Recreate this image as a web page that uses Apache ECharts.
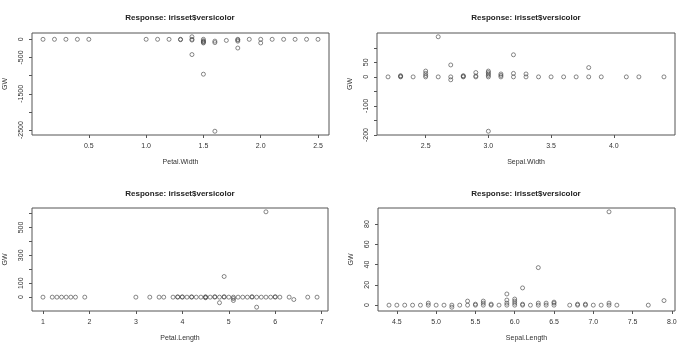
<!DOCTYPE html>
<html>
<head>
<meta charset="utf-8">
<script src="https://cdn.jsdelivr.net/npm/echarts@6/dist/echarts.min.js"></script>
<style>
  html, body { margin: 0; padding: 0; background: #fff; }
  #main { width: 690px; height: 351px; }
</style>
</head>
<body>
<div id="main"></div>
<script>
const TITLE = 'Response: irisset$versicolor';

// panel 1: Petal.Width
const petalWidth = [0.1, 0.2, 0.3, 0.4, 0.5, 1.0, 1.1, 1.2, 1.3, 1.3, 1.4, 1.4, 1.4, 1.4,
  1.5, 1.5, 1.5, 1.5, 1.5, 1.5, 1.6, 1.6, 1.6, 1.7, 1.8, 1.8, 1.8, 1.8, 1.9, 2.0, 2.0,
  2.1, 2.2, 2.3, 2.4, 2.5];
const gwPetalWidth = [0, 0, 0, 0, 0, 0, 0, 0, 0, -10, 0, -20, 70, -420,
  0, -40, -60, -80, -100, -960, -50, -90, -2530, -30, 0, -20, -50, -240, 0, 0, -100,
  0, 0, 0, 0, 0];

// panel 2: Sepal.Width
const sepalWidth = [2.2, 2.3, 2.3, 2.3, 2.4, 2.5, 2.5, 2.5, 2.5, 2.6, 2.6, 2.7, 2.7, 2.7,
  2.8, 2.8, 2.8, 2.9, 2.9, 2.9, 3.0, 3.0, 3.0, 3.0, 3.0, 3.0, 3.1, 3.1, 3.1, 3.2, 3.2, 3.2,
  3.3, 3.3, 3.4, 3.5, 3.6, 3.7, 3.8, 3.8, 3.9, 4.1, 4.2, 4.4];
const gwSepalWidth = [0, 0, 2, 4, 0, 0, 5, 12, 20, 0, 138, -10, 0, 41,
  0, 2, 4, 0, 3, 15, -187, 0, 5, 10, 15, 20, 0, 5, 10, 0, 12, 76,
  0, 10, 0, 0, 0, 0, 0, 32, 0, 0, 0, 0];

// panel 3: Petal.Length
const petalLength = [1.0, 1.2, 1.3, 1.4, 1.5, 1.6, 1.7, 1.9, 3.0, 3.3, 3.5, 3.6, 3.8, 3.9, 3.9,
  4.0, 4.0, 4.1, 4.2, 4.2, 4.3, 4.4, 4.5, 4.5, 4.5, 4.6, 4.7, 4.7, 4.8, 4.8, 4.9, 4.9, 4.9,
  5.0, 5.1, 5.1, 5.1, 5.2, 5.3, 5.4, 5.5, 5.5, 5.6, 5.6, 5.7, 5.8, 5.8, 5.9, 6.0, 6.0, 6.1,
  6.3, 6.4, 6.7, 6.9];
const gwPetalLength = [0, 0, 0, 0, 0, 0, 0, 0, 0, 0, 0, 0, 0, 0, 2,
  0, 2, 0, 0, 2, 0, 0, 0, 2, -4, 0, 0, 3, 0, -40, 0, 3, 148,
  0, 0, -10, -24, 0, 0, 0, 0, 3, 0, -72, 0, 0, 612, 0, 0, 3, 0,
  0, -17, 0, 0];

// panel 4: Sepal.Length
const sepalLength = [4.4, 4.5, 4.6, 4.7, 4.8, 4.9, 4.9, 5.0, 5.1, 5.2, 5.2, 5.3, 5.4, 5.4,
  5.5, 5.5, 5.6, 5.6, 5.6, 5.7, 5.7, 5.8, 5.9, 5.9, 5.9, 5.9, 6.0, 6.0, 6.0, 6.0,
  6.1, 6.1, 6.1, 6.2, 6.3, 6.3, 6.3, 6.4, 6.4, 6.5, 6.5, 6.5, 6.7, 6.8, 6.8, 6.9, 6.9,
  7.0, 7.1, 7.2, 7.2, 7.2, 7.3, 7.7, 7.9];
const gwSepalLength = [0, 0, 0, 0, 0, 0, 2, 0, 0, 0, -2, 0, 0, 4,
  0, 1, 0, 2, 4, 0, 1, 0, 0, 2, 5, 11, 0, 2, 4, 6,
  0, 1, 17, 0, 0, 2, 37, 0, 2, 0, 2, 3, 0, 0, 1, 0, 1,
  0, 0, 0, 2, 92, 0, 0, 4.5];

// ticks and labels (R drops overlapping labels)
const xTicks1 = [0.5, 1.0, 1.5, 2.0, 2.5];
const yTicks1 = [0, -500, -1000, -1500, -2000, -2500];
const yLabels1 = [0, -500, -1500, -2500];
const xTicks2 = [2.5, 3.0, 3.5, 4.0];
const yTicks2 = [100, 50, 0, -50, -100, -150, -200];
const yLabels2 = [50, 0, -100, -200];
const xTicks3 = [1, 2, 3, 4, 5, 6, 7];
const yTicks3 = [0, 100, 200, 300, 400, 500, 600];
const yLabels3 = [0, 100, 300, 500];
const xTicks4 = [4.5, 5.0, 5.5, 6.0, 6.5, 7.0, 7.5, 8.0];
const yTicks4 = [0, 20, 40, 60, 80];
const yLabels4 = [0, 20, 40, 60, 80];

const FONT = '"Liberation Sans", Arial, sans-serif';
const TXT = '#333';

// R pads the data range by 4% on each side
function rMin(v) { return v.min - 0.04 * (v.max - v.min); }
function rMax(v) { return v.max + 0.04 * (v.max - v.min); }

const panels = [
  { name: 'Petal.Width', x: petalWidth, y: gwPetalWidth, xt: xTicks1, yt: yTicks1, yl: yLabels1, dec: 1,
    grid: { left: 32, top: 33, width: 297, height: 102 }, tx: 180, ty: 18 },
  { name: 'Sepal.Width', x: sepalWidth, y: gwSepalWidth, xt: xTicks2, yt: yTicks2, yl: yLabels2, dec: 1,
    grid: { left: 377, top: 33, width: 298, height: 102 }, tx: 526, ty: 18 },
  { name: 'Petal.Length', x: petalLength, y: gwPetalLength, xt: xTicks3, yt: yTicks3, yl: yLabels3, dec: 0,
    grid: { left: 32, top: 208, width: 296, height: 103 }, tx: 180, ty: 194 },
  { name: 'Sepal.Length', x: sepalLength, y: gwSepalLength, xt: xTicks4, yt: yTicks4, yl: yLabels4, dec: 1,
    grid: { left: 378, top: 208, width: 297, height: 103 }, tx: 526, ty: 194 }
];

const chart = echarts.init(document.getElementById('main'), null, { renderer: 'canvas' });

const option = {
  animation: false,
  backgroundColor: '#fff',
  textStyle: { fontFamily: FONT },
  grid: panels.map(p => Object.assign({
    show: true, borderColor: '#555', borderWidth: 1, backgroundColor: 'transparent'
  }, p.grid)),
  xAxis: panels.map((p, i) => ({
    type: 'value',
    gridIndex: i,
    position: 'bottom',
    min: rMin,
    max: rMax,
    name: p.name,
    nameLocation: 'middle',
    nameGap: 24,
    nameTextStyle: { fontSize: 7, color: TXT, fontFamily: FONT },
    axisLine: { show: false, onZero: false },
    splitLine: { show: false },
    axisTick: { show: true, length: 3, customValues: p.xt, lineStyle: { color: '#555' } },
    axisLabel: {
      customValues: p.xt, fontSize: 7, color: TXT, margin: 8, fontFamily: FONT,
      formatter: v => v.toFixed(p.dec)
    }
  })),
  yAxis: panels.map((p, i) => ({
    type: 'value',
    gridIndex: i,
    position: 'left',
    min: rMin,
    max: rMax,
    name: 'GW',
    nameLocation: 'middle',
    nameGap: 23,
    nameTextStyle: { fontSize: 7, color: TXT, fontFamily: FONT },
    axisLine: { show: false, onZero: false },
    splitLine: { show: false },
    axisTick: { show: true, length: 3, customValues: p.yt, lineStyle: { color: '#555' } },
    axisLabel: {
      customValues: p.yl, rotate: 90, fontSize: 7, color: TXT, margin: 7, fontFamily: FONT,
      formatter: v => String(v)
    }
  })),
  graphic: panels.map(p => ({
    type: 'text',
    x: p.tx,
    y: p.ty,
    style: {
      text: TITLE, fontSize: 8, fontWeight: 'bold', fontFamily: FONT,
      fill: '#222', align: 'center', verticalAlign: 'middle'
    }
  })),
  series: panels.map((p, i) => ({
    type: 'scatter',
    xAxisIndex: i,
    yAxisIndex: i,
    symbol: 'circle',
    symbolSize: 4,
    itemStyle: { color: 'rgba(0,0,0,0)', borderColor: '#444', borderWidth: 0.8 },
    data: p.x.map((v, k) => [v, p.y[k]])
  }))
};

chart.setOption(option);
</script>
</body>
</html>
